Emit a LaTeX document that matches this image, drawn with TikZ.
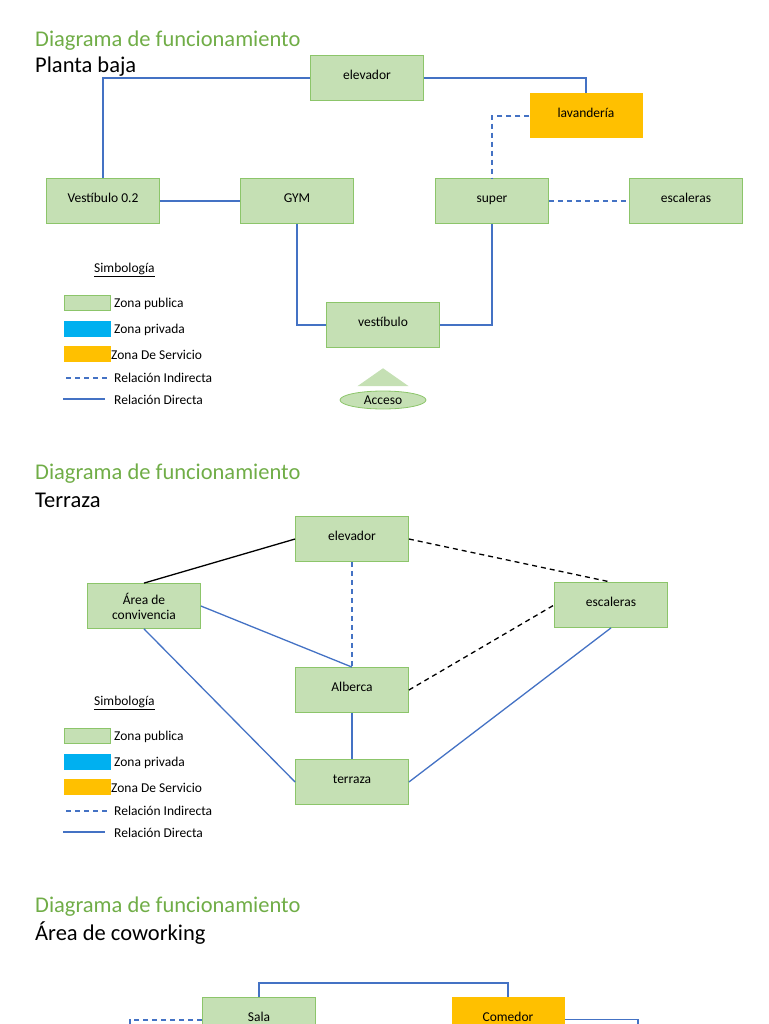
\documentclass[tikz,border=0pt]{standalone}
\usepackage{fontspec}
\setmainfont{Carlito}
\usetikzlibrary{positioning,shapes.geometric}
\definecolor{zonaverde}{HTML}{C5E0B4}
\definecolor{bordeverde}{HTML}{8CC56A}
\definecolor{titulo}{HTML}{70AD47}
\definecolor{linea}{HTML}{4472C4}
\definecolor{servicio}{HTML}{FFC000}
\definecolor{privada}{HTML}{00B0F0}
\tikzset{
  zona/.style={draw=bordeverde, fill=zonaverde, line width=0.8pt, minimum width=113pt, minimum height=45pt, inner sep=0pt, font=\fontsize{13.5}{15}\selectfont, align=center, text height=8pt, text depth=5pt},
  servz/.style={fill=servicio, minimum width=113pt, minimum height=45pt, inner sep=0pt, font=\fontsize{13.5}{15}\selectfont, text height=8pt, text depth=5pt},
  directa/.style={draw=linea, line width=1.3pt},
  indirecta/.style={draw=linea, line width=1.3pt, dash pattern=on 5pt off 4pt},
  negra/.style={draw=black, line width=1.3pt},
  negrad/.style={draw=black, line width=1.3pt, dash pattern=on 5pt off 4pt},
  tit/.style={anchor=west, inner sep=0pt, font=\fontsize{22.5}{25}\selectfont, text=titulo},
  sub/.style={anchor=west, inner sep=0pt, font=\fontsize{22.5}{25}\selectfont},
  ley/.style={anchor=west, inner sep=0pt, font=\fontsize{13.5}{15}\selectfont}
}
\newcommand{\simbologia}[2]{%
  \begin{scope}[yshift=#1]
  \node[ley] (#2sim) at (94,270) {\underline{Simbología}};
  \node[draw=bordeverde, fill=zonaverde, line width=0.8pt, minimum width=46pt, minimum height=15pt, inner sep=0pt] (#2pub) at (87.5,303) {};
  \node[fill=privada, minimum width=47pt, minimum height=16pt, inner sep=0pt] (#2pri) at (87.5,329) {};
  \node[fill=servicio, minimum width=47pt, minimum height=16pt, inner sep=0pt] (#2ser) at (87.5,354) {};
  \node[ley] (#2tpub) at (114,304) {Zona publica};
  \node[ley] (#2tpri) at (114,330) {Zona privada};
  \node[ley] (#2tser) at (111,355) {Zona De Servicio};
  \coordinate (#2ia) at (66,378); \coordinate (#2ib) at (107,378);
  \coordinate (#2da) at (63,399); \coordinate (#2db) at (105,399);
  \draw[indirecta] (#2ia) -- (#2ib);
  \draw[directa] (#2da) -- (#2db);
  \node[ley] (#2tind) at (114,378) {Relación Indirecta};
  \node[ley] (#2tdir) at (114,400) {Relación Directa};
  \end{scope}}
\begin{document}
\begin{tikzpicture}[x=1pt, y=-1pt]
\useasboundingbox (0,0) rectangle (768,1024);
% planta baja
\node[tit] (t1) at (35,41) {Diagrama de funcionamiento};
\node[sub] (s1) at (35,67) {Planta baja};
\node[zona] (elev) at (367,78) {elevador};
\node[servz] (lav) at (586,116) {lavandería};
\node[zona] (vest02) at (103,201) {Vestíbulo 0.2};
\node[zona] (gym) at (297,201) {GYM};
\node[zona] (super) at (492,201) {super};
\node[zona] (esc) at (686,201) {escaleras};
\node[zona] (vest) at (383,325) {vestíbulo};
\draw[directa] (elev.west) -| (vest02.north);
\draw[directa] (elev.east) -| (lav.north);
\draw[indirecta] (lav.west) -| (super.north);
\draw[directa] (vest02) -- (gym);
\draw[indirecta] (super) -- (esc);
\draw[directa] (gym.south) |- (vest.west);
\draw[directa] (super.south) |- (vest.east);
\node[isosceles triangle, shape border rotate=90, isosceles triangle apex angle=110, fill=zonaverde, minimum width=51pt, minimum height=18pt, inner sep=0pt, anchor=apex] (tri) at (383,368) {};
\node[ellipse, draw=bordeverde, fill=zonaverde, line width=0.8pt, minimum width=86pt, minimum height=18pt, inner sep=0pt, font=\fontsize{13.5}{15}\selectfont] (acc) at (383,400) {Acceso};
\simbologia{0}{a}
% terraza
\node[tit] (t2) at (35,474) {Diagrama de funcionamiento};
\node[sub] (s2) at (35,500) {Terraza};
\node[zona] (elev2) at (352,539) {elevador};
\node[zona, text height=, text depth=] (conv) at (144,606) {Área de\\convivencia};
\node[zona] (esc2) at (611,605) {escaleras};
\node[zona] (alb) at (352,690) {Alberca};
\node[zona] (terr) at (352,782) {terraza};
\draw[negra] (conv.north) -- (elev2.west);
\draw[negrad] (elev2.east) -- (esc2.north);
\draw[negrad] (alb.east) -- (esc2.west);
\draw[indirecta] (elev2.south) -- (alb.north);
\draw[directa] (conv.east) -- (alb.north);
\draw[directa] (conv.south) -- (terr.west);
\draw[directa] (alb) -- (terr);
\draw[directa] (terr.east) -- (esc2.south);
\simbologia{-433}{b}
% coworking
\node[tit] (t3) at (35,907) {Diagrama de funcionamiento};
\node[sub] (s3) at (35,933) {Área de coworking};
\node[zona, anchor=north] (sala) at (259,997) {Sala};
\node[servz, anchor=north] (com) at (508,997) {Comedor};
\coordinate (sw) at (130,1030);
\coordinate (ce) at (638,1030);
\draw[directa] (sala.north) -- ++(0,-14) -| (com.north);
\draw[indirecta] (sala.west) -| (sw);
\draw[directa] (com.east) -| (ce);
\end{tikzpicture}
\end{document}
